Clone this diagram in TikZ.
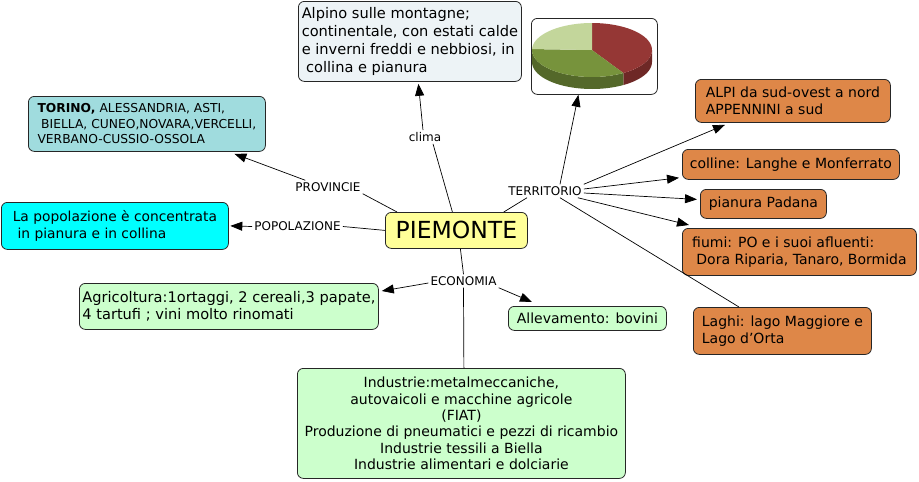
\documentclass[tikz,border=0pt]{standalone}
\usepackage{fontspec}
\setmainfont{DejaVu Sans}
\usetikzlibrary{arrows.meta}
\definecolor{climafill}{RGB}{237,243,246}
\definecolor{provfill}{RGB}{160,220,222}
\definecolor{popfill}{RGB}{0,255,255}
\definecolor{piemfill}{RGB}{255,255,153}
\definecolor{terrfill}{RGB}{222,135,72}
\definecolor{econfill}{RGB}{204,255,204}
\definecolor{pier}{RGB}{149,55,53}
\definecolor{pierd}{RGB}{110,40,38}
\definecolor{pieg}{RGB}{119,147,60}
\definecolor{piegd}{RGB}{84,104,42}
\definecolor{piel}{RGB}{195,214,155}
\begin{document}
\begin{tikzpicture}[x=1pt,y=-1pt,
  box/.style={draw=black!85, line width=0.8pt, rounded corners=6pt, anchor=north west, inner xsep=3pt, inner ysep=0pt, align=left},
  lab/.style={font=\fontsize{12}{14}\selectfont, inner sep=2pt},
  conn/.style={line width=0.7pt},
  arr/.style={conn, -{Triangle[length=12pt,width=9pt]}}]
\useasboundingbox (0,0) rectangle (919,482);

% boxes
\node[box, fill=climafill, minimum width=223pt, minimum height=80pt, font=\fontsize{14.6}{18}\selectfont] (clima) at (298,1)
  {Alpino sulle montagne;\\continentale, con estati calde\\e inverni freddi e nebbiosi, in\\\hspace*{0.3em}collina e pianura};
\node[box, fill=white, minimum width=126pt, minimum height=76pt] (pie) at (531,18) {};
\node[box, fill=provfill, minimum width=237pt, minimum height=55pt, font=\fontsize{12.3}{15.5}\selectfont] (prov) at (28,96)
  {\textbf{TORINO,} ALESSANDRIA, ASTI,\\\hspace*{0.3em}BIELLA, CUNEO,NOVARA,VERCELLI,\\VERBANO-CUSSIO-OSSOLA};
\node[box, fill=popfill, minimum width=227pt, minimum height=47pt, font=\fontsize{13.8}{17}\selectfont] (pop) at (1,202)
  {La popolazione è concentrata\\\hspace*{0.35em}in pianura e in collina};
\node[box, fill=piemfill, minimum width=142pt, minimum height=36pt, align=center, font=\fontsize{23.5}{26}\selectfont] (piem) at (385,212) {PIEMONTE};
\node[box, fill=terrfill, minimum width=195pt, minimum height=43pt, font=\fontsize{14}{17}\selectfont] (alpi) at (695,79)
  {ALPI da sud-ovest a nord\\APPENNINI a sud};
\node[box, fill=terrfill, minimum width=217pt, minimum height=30pt, font=\fontsize{14}{17}\selectfont] (colline) at (682,149)
  {colline: Langhe e Monferrato};
\node[box, fill=terrfill, minimum width=126pt, minimum height=29pt, font=\fontsize{14}{17}\selectfont] (pianura) at (700,189)
  {pianura Padana};
\node[box, fill=terrfill, minimum width=234pt, minimum height=47pt, font=\fontsize{14}{17}\selectfont] (fiumi) at (682,228)
  {fiumi: PO e i suoi afluenti:\\\hspace*{0.3em}Dora Riparia, Tanaro, Bormida};
\node[box, fill=terrfill, minimum width=178pt, minimum height=47pt, font=\fontsize{14}{17}\selectfont] (laghi) at (693,307)
  {Laghi: lago Maggiore e\\Lago d'Orta};
\node[box, fill=econfill, minimum width=299pt, minimum height=46pt, font=\fontsize{14.6}{17}\selectfont] (agri) at (79,283)
  {Agricoltura:1ortaggi, 2 cereali,3 papate,\\4 tartufi ; vini molto rinomati};
\node[box, fill=econfill, minimum width=158pt, minimum height=24pt, align=center, font=\fontsize{14}{17}\selectfont] (allev) at (508,306)
  {Allevamento: bovini};
\node[box, fill=econfill, minimum width=328pt, minimum height=110pt, align=center, font=\fontsize{14}{16.3}\selectfont] (indu) at (297,368)
  {Industrie:metalmeccaniche,\\autovaicoli e macchine agricole\\(FIAT)\\Produzione di pneumatici e pezzi di ricambio\\Industrie tessili a Biella\\Industrie alimentari e dolciarie};

% pie chart
\fill[pierd] plot[domain=0:-58.5,samples=30] ({592+60*cos(\x)},{50-27*sin(\x)})
  -- plot[domain=-58.5:0,samples=30] ({592+60*cos(\x)},{62-27*sin(\x)}) -- cycle;
\fill[piegd] plot[domain=-58.5:-180,samples=40] ({592+60*cos(\x)},{50-27*sin(\x)})
  -- plot[domain=-180:-58.5,samples=40] ({592+60*cos(\x)},{62-27*sin(\x)}) -- cycle;
\fill[pier] (592,50) -- plot[domain=90:-58.5,samples=50] ({592+60*cos(\x)},{50-27*sin(\x)}) -- cycle;
\fill[pieg] (592,50) -- plot[domain=-58.5:-182,samples=50] ({592+60*cos(\x)},{50-27*sin(\x)}) -- cycle;
\fill[piel] (592,50) -- plot[domain=-182:-270,samples=40] ({592+60*cos(\x)},{50-27*sin(\x)}) -- cycle;

% link labels
\node[lab] (climalab) at (425,137) {clima};
\node[lab] (provlab) at (328,187) {PROVINCIE};
\node[lab] (poplab) at (297.5,226.5) {POPOLAZIONE};
\node[lab] (terrlab) at (545,191) {TERRITORIO};
\node[lab] (econlab) at (463.5,281) {ECONOMIA};

% connectors
\draw[conn] ([xshift=-4pt]piem.north) -- ([xshift=8pt]climalab.south);
\draw[arr] ([xshift=-2pt]climalab.north) -- ([xshift=8.5pt,yshift=-2pt]clima.south);
\draw[conn] ([xshift=12pt]piem.north west) -- (provlab.south east);
\draw[arr] ([xshift=12pt]provlab.north west) -- ([xshift=87.5pt,yshift=-2pt]prov.south);
\draw[conn] (piem.west) -- (poplab.east);
\draw[arr] (poplab.west) -- ([xshift=1.5pt]pop.east);
\draw[conn] ([xshift=-24pt]piem.north east) -- ([xshift=-18pt]terrlab.south);
\draw[arr] ([xshift=15pt]terrlab.north) -- ([xshift=-16pt]pie.south);
\draw[arr] (terrlab.north east) -- ([xshift=30pt,yshift=-2pt]alpi.south west);
\draw[arr] ([yshift=2pt]terrlab.east) -- ([xshift=-3pt,yshift=2pt]colline.south west);
\draw[arr] ([yshift=-2pt]terrlab.east) -- ([xshift=-3pt,yshift=4.5pt]pianura.west);
\draw[arr] ([xshift=-6pt]terrlab.south east) -- ([xshift=7pt,yshift=3pt]fiumi.north west);
\draw[conn] ([xshift=15pt]terrlab.south) -- ([xshift=46pt]laghi.north west);
\draw[conn] ([xshift=4pt]piem.south) -- (econlab.north);
\draw[arr] ([yshift=-2pt]econlab.west) -- ([xshift=3pt,yshift=-8pt]agri.north east);
\draw[arr] (econlab.south east) -- ([xshift=24pt,yshift=4pt]allev.north west);
\draw[conn] (econlab.south) -- ([xshift=2.5pt]indu.north);
\end{tikzpicture}
\end{document}
